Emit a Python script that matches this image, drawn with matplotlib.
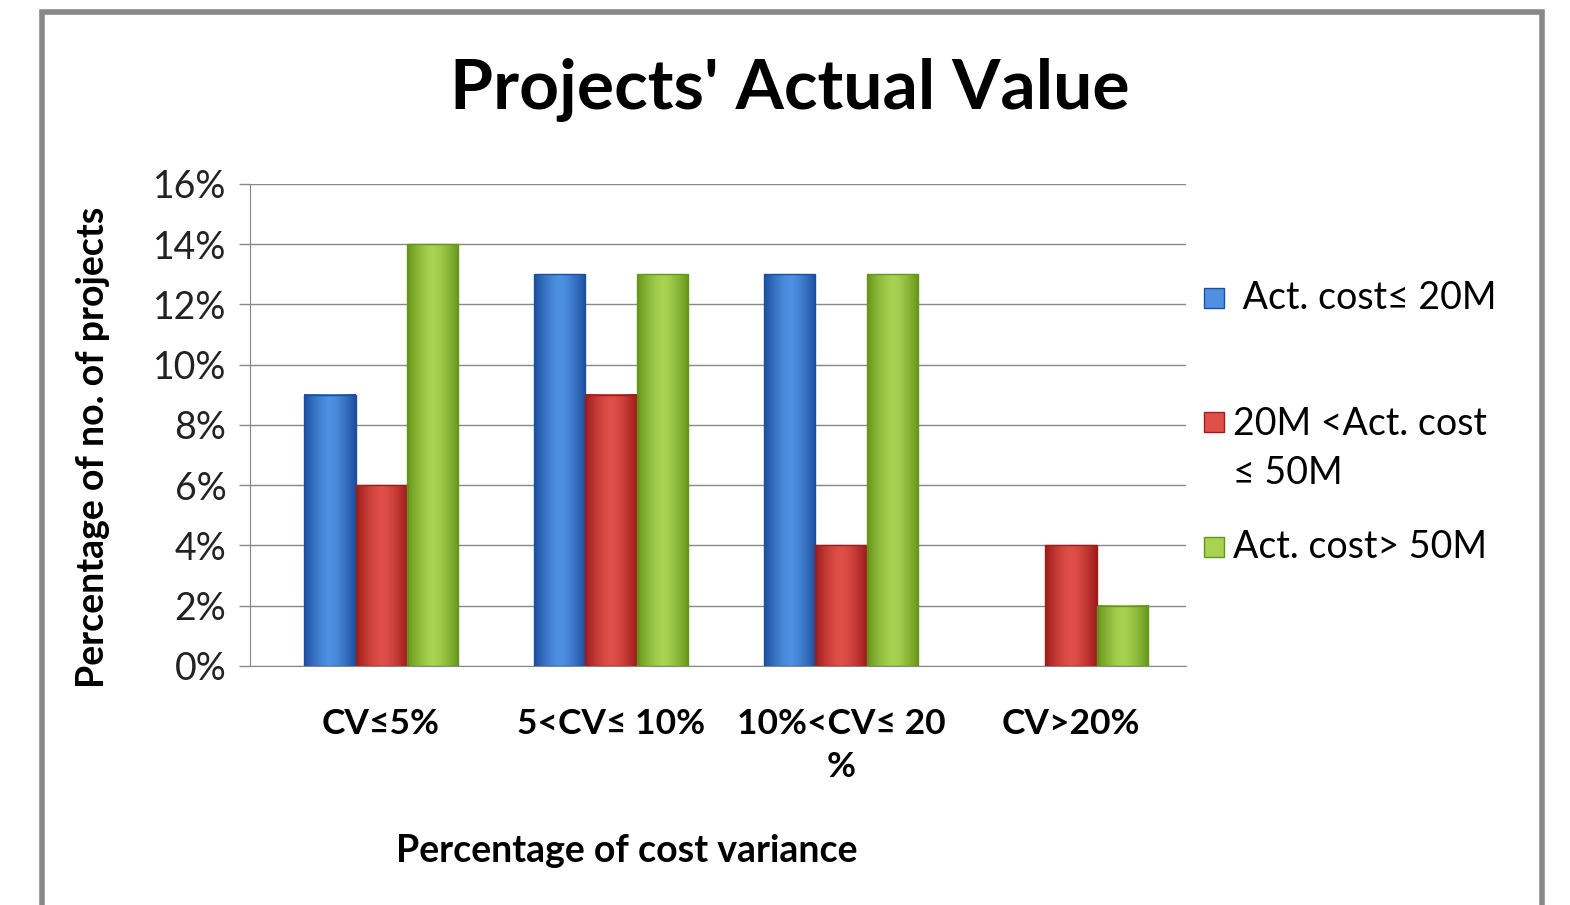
import numpy as np
import matplotlib.pyplot as plt
from matplotlib.patches import Rectangle
from matplotlib.colors import to_rgb

# data (percent of projects)
categories = ['CV≤5%', '5<CV≤ 10%', '10%<CV≤ 20\n%', 'CV>20%']
series_names = [' Act. cost≤ 20M', '20M <Act. cost\n≤ 50M', 'Act. cost> 50M']
cost_le_20m = [9, 13, 13, 0]
cost_20_50m = [6, 9, 4, 4]
cost_gt_50m = [14, 13, 13, 2]
y_ticks = [0, 2, 4, 6, 8, 10, 12, 14, 16]

# (edge, mid) colours for a horizontal gradient like Excel's bevel bars
colors = [('#1c4f9e', '#4f90e2'), ('#9e1c1a', '#e0504a'), ('#65951a', '#a8d352')]

plt.rcParams['font.family'] = ['Lato', 'DejaVu Sans']

fig = plt.figure(figsize=(15.7, 9.05), dpi=100)
ax = fig.add_axes([0.1592, 0.2641, 0.5962, 0.5326])

# outer gray frame (bottom edge cut off as in the reference)
fig.add_artist(Rectangle((42 / 1570, -0.05), 1500 / 1570, 1.05 - 12 / 905,
                         transform=fig.transFigure, fill=False,
                         edgecolor='#888888', linewidth=4, zorder=0))


def gradient_bar(ax, x, w, h, edge, mid):
    if h <= 0:
        return
    t = np.linspace(0, 1, 64)
    shape = 1 - np.abs(2 * t - 1) ** 1.5
    e = np.array(to_rgb(edge))
    m = np.array(to_rgb(mid))
    img = e[None, None, :] + (m - e)[None, None, :] * shape[None, :, None]
    ax.imshow(img, extent=[x, x + w, 0, h], aspect='auto', zorder=3,
              interpolation='bilinear')
    ax.add_patch(Rectangle((x, 0), w, h, fill=False, edgecolor=edge,
                           linewidth=1, zorder=4))


series = [cost_le_20m, cost_20_50m, cost_gt_50m]
bar_w = 0.222
x = np.arange(len(categories))
for i, vals in enumerate(series):
    for xi, v in zip(x, vals):
        left = xi - 1.5 * bar_w + i * bar_w
        gradient_bar(ax, left, bar_w, v, *colors[i])

ax.set_xlim(-0.57, 3.5)
ax.set_ylim(0, 16)
ax.set_yticks(y_ticks)
ax.set_yticklabels([f'{t}%' for t in y_ticks], fontsize=27, color='#222222')
ax.set_xticks(x)
ax.set_xticklabels(categories, fontsize=25.5, fontweight='bold',
                   linespacing=1.45, va='top')
ax.tick_params(axis='x', length=0, pad=30)
ax.tick_params(axis='y', length=8, width=1, color='#888888', pad=9)
ax.grid(axis='y', color='#888888', linewidth=1, zorder=1)
ax.set_axisbelow(True)
for s in ['top', 'right']:
    ax.spines[s].set_visible(False)
ax.spines['left'].set_color('#888888')
ax.spines['bottom'].set_color('#888888')

ax.set_ylabel('Percentage of no. of projects', fontsize=27, fontweight='bold')
ax.yaxis.set_label_coords(-0.150, 0.454)

fig.text(0.503, 0.90, "Projects' Actual Value", ha='center', va='center',
         fontsize=50, fontweight='bold')
fig.text(0.399, 0.06, 'Percentage of cost variance', ha='center', va='center',
         fontsize=27, fontweight='bold')

# legend drawn on the figure like Excel's right-side legend
leg_y = [298, 422, 547]
for (edge, mid), name, ly in zip(colors, series_names, leg_y):
    fig.add_artist(Rectangle((1204 / 1570, 1 - (ly + 10) / 905), 20 / 1570, 20 / 905,
                             transform=fig.transFigure, facecolor=mid,
                             edgecolor=edge, linewidth=1))
    if '\n' in name:
        fig.text(1233 / 1570, 1 - (ly - 16) / 905, name, ha='left', va='top',
                 fontsize=27, linespacing=1.45)
    else:
        fig.text(1233 / 1570, 1 - ly / 905, name, ha='left', va='center',
                 fontsize=27)

fig.savefig('out.png', dpi=100, facecolor='white')
